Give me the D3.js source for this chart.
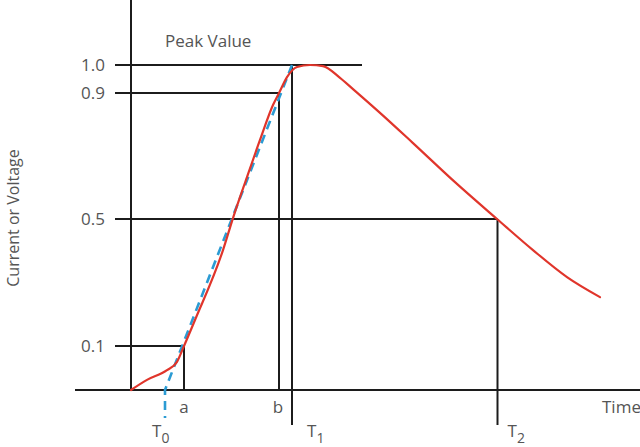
<!DOCTYPE html>
<html>
<head>
<meta charset="utf-8">
<script src="https://cdn.jsdelivr.net/npm/d3@7"></script>
<style>
  body { margin: 0; background: #fff; }
  svg { display: block; }
  text { font-family: "Open Sans", "Noto Sans", sans-serif; fill: #555; }
</style>
</head>
<body>
<div class="chart"></div>
<script>
// impulse wave shape (time in arbitrary units, value as fraction of peak)
const curveTime  = [0, 3.2, 7.2, 9.2, 10.6, 12.8, 18.4, 20.4, 23.2, 25.8, 28.4, 29.6, 31.2, 33.2, 35.8, 38.4, 41.8, 44.4, 49.8, 56.4, 64.8, 73.2, 80.4, 87.2, 93.8];
const curveValue = [0, 0.023, 0.045, 0.064, 0.1, 0.182, 0.402, 0.503, 0.633, 0.751, 0.862, 0.9, 0.957, 0.993, 1.0, 0.996, 0.954, 0.914, 0.837, 0.741, 0.617, 0.5, 0.402, 0.317, 0.254];

// y levels and their labels
const levels      = [0.1, 0.5, 0.9, 1.0];
const levelLabels = ["0.1", "0.5", "0.9", "1.0"];

// marked instants on the time axis
const tA = 10.6, tB = 29.6, tT0 = 6.8, tT1 = 32.2, tT2 = 73.3;
const peakLineEnd = 46.2;
// where each level line stops
const levelEnds = [tA, tT2, tB, peakLineEnd];

const width = 640, height = 447;

const svg = d3.select(".chart")
  .append("svg")
  .attr("width", width)
  .attr("height", height)
  .attr("viewBox", `0 0 ${width} ${height}`);

const x = d3.scaleLinear()
  .domain([0, 100])
  .range([131, 631]);

// schematic, not evenly spaced in the drawing
const y = d3.scaleLinear()
  .domain([0, 0.1, 0.5, 0.9, 1.0])
  .range([390, 346, 219, 93, 65]);

const ink = "#1c1c1c";
const drop = 35;      // how far T1/T2 lines reach below the time axis
const tickStart = 115;

// axes
svg.append("line")
  .attr("x1", x(0)).attr("x2", x(0))
  .attr("y1", 0).attr("y2", y(0))
  .attr("stroke", ink).attr("stroke-width", 2);

svg.append("line")
  .attr("x1", x(0) - 56).attr("x2", width)
  .attr("y1", y(0)).attr("y2", y(0))
  .attr("stroke", ink).attr("stroke-width", 2);

// level lines
svg.selectAll(".level")
  .data(levels)
  .join("line")
  .attr("class", "level")
  .attr("x1", tickStart)
  .attr("x2", (d, i) => x(levelEnds[i]))
  .attr("y1", d => y(d))
  .attr("y2", d => y(d))
  .attr("stroke", ink).attr("stroke-width", 2);

svg.selectAll(".level-label")
  .data(levels)
  .join("text")
  .attr("class", "level-label")
  .attr("x", 105)
  .attr("y", d => y(d))
  .attr("dy", "0.36em")
  .attr("text-anchor", "end")
  .style("font-size", "17px")
  .text((d, i) => levelLabels[i]);

// vertical markers
const verticals = [
  { t: tA,  top: y(0.1), bottom: y(0) },
  { t: tB,  top: y(0.9), bottom: y(0) },
  { t: tT1, top: y(1.0), bottom: y(0) + drop },
  { t: tT2, top: y(0.5), bottom: y(0) + drop }
];

svg.selectAll(".vert")
  .data(verticals)
  .join("line")
  .attr("class", "vert")
  .attr("x1", d => x(d.t)).attr("x2", d => x(d.t))
  .attr("y1", d => d.top).attr("y2", d => d.bottom)
  .attr("stroke", ink).attr("stroke-width", 2);

// front-time construction line through 10% and 90%
svg.append("path")
  .attr("d", `M${x(tT1)},${y(1.0)}L${x(tT0)},${y(0)}L${x(tT0)},${y(0) + 28}`)
  .attr("fill", "none")
  .attr("stroke", "#2b9bd3")
  .attr("stroke-width", 2.6)
  .attr("stroke-dasharray", "9,6");

// the wave
const line = d3.line()
  .x(d => x(d[0]))
  .y(d => y(d[1]))
  .curve(d3.curveMonotoneX);

svg.append("path")
  .datum(d3.zip(curveTime, curveValue))
  .attr("d", line)
  .attr("fill", "none")
  .attr("stroke", "#e0352b")
  .attr("stroke-width", 2.2)
  .attr("stroke-linecap", "round");

// labels
svg.append("text")
  .attr("x", x(6.8))
  .attr("y", y(1.0) - 18)
  .style("font-size", "17px")
  .text("Peak Value");

svg.append("text")
  .attr("x", x(tA))
  .attr("y", y(0) + 23)
  .attr("text-anchor", "middle")
  .style("font-size", "17px")
  .text("a");

svg.append("text")
  .attr("x", x(tB) - 1)
  .attr("y", y(0) + 23)
  .attr("text-anchor", "middle")
  .style("font-size", "17px")
  .text("b");

const tLabels = [
  { t: tT0, dx: -13, sub: "0" },
  { t: tT1, dx: 15,  sub: "1" },
  { t: tT2, dx: 10,  sub: "2" }
];

const tl = svg.selectAll(".tlabel")
  .data(tLabels)
  .join("text")
  .attr("class", "tlabel")
  .attr("x", d => x(d.t) + d.dx)
  .attr("y", y(0) + 47)
  .style("font-size", "17px");

tl.append("tspan").text("T");
tl.append("tspan")
  .attr("dy", 6)
  .style("font-size", "14px")
  .text(d => d.sub);

svg.append("text")
  .attr("x", 602)
  .attr("y", y(0) + 23)
  .style("font-size", "17px")
  .text("Time");

svg.append("text")
  .attr("transform", `translate(19,218) rotate(-90)`)
  .attr("text-anchor", "middle")
  .style("font-size", "16px")
  .text("Current or Voltage");
</script>
</body>
</html>
